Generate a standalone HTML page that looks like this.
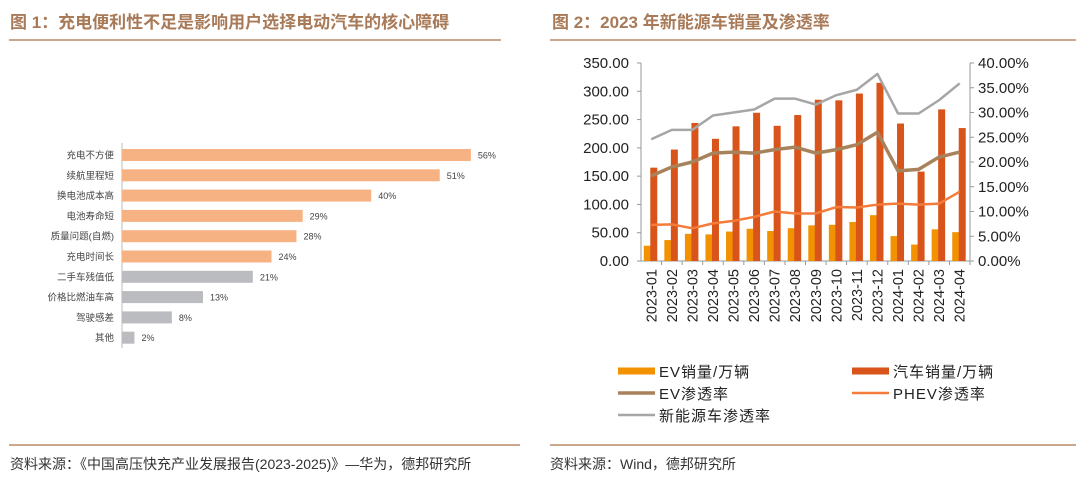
<!DOCTYPE html>
<html><head><meta charset="utf-8"><style>
body{margin:0;background:#fff;width:1080px;height:482px;overflow:hidden}
svg{display:block;font-family:"Liberation Sans","Noto Sans CJK SC",sans-serif}
</style></head><body>
<svg id="s" width="1080" height="482">
<text x="10" y="28" font-size="17" font-weight="bold" fill="#a87a58">图 1：充电便利性不足是影响用户选择电动汽车的核心障碍</text>
<line x1="9" y1="40" x2="501" y2="40" stroke="#b88a68" stroke-width="1.5"/>
<text x="552" y="28" font-size="17" font-weight="bold" fill="#a87a58">图 2：2023 年新能源车销量及渗透率</text>
<line x1="550" y1="40" x2="1076" y2="40" stroke="#b88a68" stroke-width="1.5"/>
<line x1="9" y1="445" x2="520" y2="445" stroke="#b88a68" stroke-width="1.5"/>
<line x1="550" y1="445" x2="1076" y2="445" stroke="#b88a68" stroke-width="1.5"/>
<text x="10" y="469" font-size="14" fill="#333">资料来源：《中国高压快充产业发展报告(2023-2025)》—华为，德邦研究所</text>
<text x="550" y="469" font-size="14" fill="#333">资料来源：Wind，德邦研究所</text>
<g id="c1"></g>
<g id="c2"></g>
</svg>
<script>
const reasons=["充电不方便","续航里程短","换电池成本高","电池寿命短","质量问题(自燃)","充电时间长","二手车残值低","价格比燃油车高","驾驶感差","其他"];
const reasonPct=[56,51,40,29,28,24,21,13,8,2];
const months=["2023-01","2023-02","2023-03","2023-04","2023-05","2023-06","2023-07","2023-08","2023-09","2023-10","2023-11","2023-12","2024-01","2024-02","2024-03","2024-04"];
const evSales=[27,37,48,47,52,57,53,58,63,64,69,81,44,29,56,51];
const carSales=[165,197,244,216,238,262,239,258,285,284,296,315,243,158,268,235];
const evRate=[17.2,19,20,21.8,22,21.8,22.5,23,21.8,22.5,23.5,26,18.2,18.5,21,22];
const phevRate=[7.3,7.4,6.6,7.6,8.1,8.9,10,9.6,9.6,10.9,10.8,11.4,11.6,11.4,11.6,14];
const nevRate=[24.6,26.5,26.5,29.4,30,30.6,32.8,32.8,31.6,33.5,34.6,37.8,29.8,29.8,32.5,35.9];
const leftTicks=[0,50,100,150,200,250,300,350];
const rightTicks=[0,5,10,15,20,25,30,35,40];
const NS="http://www.w3.org/2000/svg";
function mk(p,t,a,txt){const e=document.createElementNS(NS,t);for(const k in a)e.setAttribute(k,a[k]);if(txt!==undefined)e.textContent=txt;p.appendChild(e);return e;}
// chart 1
const c1=document.getElementById('c1');
const x1=v=>122+v*6.23, y1=i=>155+i*20.3;
let ax=mk(c1,'line',{x1:122,y1:143,x2:122,y2:348,stroke:'#bbb'});


reasons.forEach((r,i)=>{
 const b=mk(c1,'rect',{x:122,y:y1(i)-6,width:x1(reasonPct[i])-122,height:12,fill:i<6?'#f7b283':'#bbbcbf'});
 
 
 const l=mk(c1,'text',{x:114,y:y1(i)+3.5,'font-size':9.5,'text-anchor':'end',fill:'#444'},r);
 
 
 const v=mk(c1,'text',{x:x1(reasonPct[i])+7,y:y1(i)+3.5,'font-size':9,fill:'#444'},reasonPct[i]+'%');
 
 
});
// chart 2
const c2=document.getElementById('c2');
const L=641,R=970,T=63,B=261,cw=(R-L)/months.length;
const yl=v=>B-v/350*(B-T), yr=v=>B-v/40*(B-T), xc=i=>L+cw*(i+0.5);
let a2=mk(c2,'line',{x1:L,y1:T,x2:L,y2:B,stroke:'#999'});


let a3=mk(c2,'line',{x1:R,y1:T,x2:R,y2:B,stroke:'#999'});


let a4=mk(c2,'line',{x1:L,y1:B,x2:R,y2:B,stroke:'#999'});


leftTicks.forEach(t=>{
 mk(c2,'line',{x1:L-4,y1:yl(t),x2:L,y2:yl(t),stroke:'#999'});
 const e=mk(c2,'text',{x:L-12,y:yl(t)+5,'font-size':15,'text-anchor':'end',fill:'#222'},t.toFixed(2));
 
 
});
rightTicks.forEach(t=>{
 mk(c2,'line',{x1:R,y1:yr(t),x2:R+4,y2:yr(t),stroke:'#999'});
 const e=mk(c2,'text',{x:R+8,y:yr(t)+5,'font-size':15,fill:'#222'},t.toFixed(2)+'%');
 
 
});
months.forEach((m,i)=>{
 mk(c2,'line',{x1:L+cw*(i+1),y1:B,x2:L+cw*(i+1),y2:B+4,stroke:'#999'});
 const b1=mk(c2,'rect',{x:xc(i)-7.5,y:yl(evSales[i]),width:7,height:B-yl(evSales[i]),fill:'#f39200'});
 
 
 const b2=mk(c2,'rect',{x:xc(i)-1,y:yl(carSales[i]),width:7,height:B-yl(carSales[i]),fill:'#d9541a'});
 
 
 const t=mk(c2,'text',{x:0,y:0,'font-size':14.5,'text-anchor':'end',fill:'#222',transform:`translate(${xc(i)+5},${B+8}) rotate(-90)`},m);
 
 
});
function line(arr,col,w,name){
 const p=mk(c2,'polyline',{points:arr.map((v,i)=>xc(i)+','+yr(v)).join(' '),fill:'none',stroke:col,'stroke-width':w,'stroke-linejoin':'round'});
 
 
}
line(nevRate,'#a6a6a6',2.5,'nev-rate-line');
line(evRate,'#a8825a',3.5,'ev-rate-line');
line(phevRate,'#f47b3a',2.5,'phev-rate-line');
const leg=[["EV销量/万辆",'#f39200',618,371,7],["汽车销量/万辆",'#d9541a',852,371,7],["EV渗透率",'#a8825a',618,393,3.5],["PHEV渗透率",'#f47b3a',852,393,2.5],["新能源车渗透率",'#a6a6a6',618,415,2.5]];
leg.forEach(g=>{
 const s=mk(c2,'line',{x1:g[2],y1:g[3],x2:g[2]+37,y2:g[3],stroke:g[1],'stroke-width':g[4]});
 
 
 const t=mk(c2,'text',{x:g[2]+41,y:g[3]+6,'font-size':15,fill:'#222','letter-spacing':'1'},g[0]);
 
 
});
</script>
</body></html>
